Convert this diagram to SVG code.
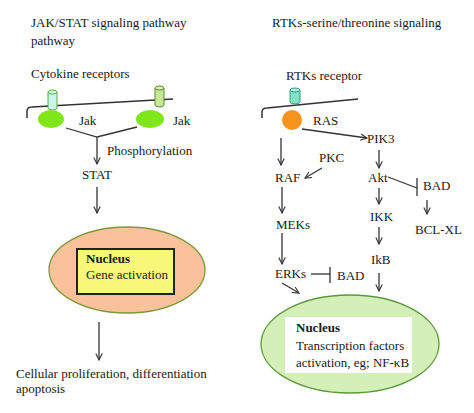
<svg xmlns="http://www.w3.org/2000/svg" width="474" height="413" viewBox="0 0 474 413">
<defs>
<style>
text{font-family:"Liberation Serif","Times New Roman",serif;font-size:13px;fill:#1a1a1a}
.b{font-weight:bold}
.ln{stroke:#333;stroke-width:1.3;fill:none}
.arr{stroke:#333;stroke-width:1.3;fill:none;marker-end:url(#ah)}
.mem{stroke:#333;stroke-width:1.5;fill:none}
</style>
<marker id="ah" viewBox="0 0 10 10" refX="9" refY="5" markerWidth="8" markerHeight="8" markerUnits="userSpaceOnUse" orient="auto">
<path d="M1,1 L9,5 L1,9" fill="none" stroke="#333" stroke-width="1.4"/>
</marker>
</defs>
<rect width="474" height="413" fill="#fff"/>

<g id="titles">
<text x="31" y="27">JAK/STAT signaling pathway</text>
<text x="31" y="45">pathway</text>
<text x="272" y="27">RTKs-serine/threonine signaling</text>
</g>

<g id="cytokine-receptors">
<text x="31" y="78">Cytokine receptors</text>
<path class="mem" d="M27,118 V111 Q27,107 32,107 L173,99"/>
<g id="receptor1">
<path d="M48,92 V108 A4.5,2 0 0 0 57,108 V92" fill="#c9f7ee" stroke="#5cab3c" stroke-width="1"/>
<ellipse cx="52.5" cy="92" rx="4.5" ry="2" fill="#c9f7ee" stroke="#5cab3c" stroke-width="1"/>
</g>
<g id="receptor2">
<path d="M155,88 V105 A4.5,2 0 0 0 164,105 V88" fill="#c5e89a" stroke="#5a8a2a" stroke-width="1"/>
<ellipse cx="159.5" cy="88" rx="4.5" ry="2" fill="#d8f0b0" stroke="#5a8a2a" stroke-width="1"/>
</g>
</g>

<g id="jak1">
<ellipse cx="51" cy="119" rx="13" ry="9" fill="#7ee619"/>
<text x="79" y="125">Jak</text>
</g>
<g id="jak2">
<ellipse cx="150" cy="119" rx="14" ry="9" fill="#7ee619"/>
<text x="173" y="125">Jak</text>
</g>
<g id="phos">
<text x="107" y="155">Phosphorylation</text>
</g>
<g id="stat">
<text x="97" y="179" text-anchor="middle">STAT</text>
</g>

<g id="nucleus-left">
<ellipse cx="127" cy="270" rx="78" ry="43" fill="#f9c29a" stroke="#7a9a3a" stroke-width="1.3"/>
<rect x="77" y="249" width="97" height="45" fill="#f7f77a" stroke="#222" stroke-width="2"/>
<text x="86" y="263" class="b">Nucleus</text>
<text x="86" y="279">Gene activation</text>
</g>

<g id="outcome">
<text x="16" y="378">Cellular proliferation, differentiation</text>
<text x="16" y="393">apoptosis</text>
</g>

<g id="rtk-receptor">
<text x="286" y="80">RTKs receptor</text>
<path class="mem" d="M262,118 V112 Q262,108 267,108 L358,99"/>
<path d="M290,90 V102 A5,2 0 0 0 300,102 V90" fill="#7fe3c8" stroke="#3a9a7a" stroke-width="1"/>
<ellipse cx="295" cy="90" rx="5" ry="2" fill="#a8f0dc" stroke="#3a9a7a" stroke-width="1"/>
</g>

<g id="ras">
<circle cx="292" cy="120" r="10" fill="#f7941d"/>
<text x="313" y="125">RAS</text>
</g>
<g id="pik3"><text x="367" y="143">PIK3</text></g>
<g id="pkc"><text x="319" y="162">PKC</text></g>
<g id="raf"><text x="275" y="182">RAF</text></g>
<g id="akt"><text x="368" y="182">Akt</text></g>
<g id="bad1"><text x="423" y="190">BAD</text></g>
<g id="bclxl"><text x="415" y="234">BCL-XL</text></g>
<g id="ikk"><text x="370" y="221">IKK</text></g>
<g id="ikb"><text x="371" y="264">IkB</text></g>
<g id="meks"><text x="276" y="229">MEKs</text></g>
<g id="erks"><text x="275" y="278">ERKs</text></g>
<g id="bad2"><text x="337" y="280">BAD</text></g>

<g id="nucleus-right">
<ellipse cx="350" cy="344" rx="89" ry="49" fill="#d5efb9" stroke="#5a9a3a" stroke-width="1.3"/>
<rect x="285" y="317" width="127" height="56" fill="#fff"/>
<text x="296" y="332" class="b">Nucleus</text>
<text x="296" y="350">Transcription factors</text>
<text x="296" y="367">activation, eg; NF-κB</text>
</g>

<g id="connectors">
<polyline class="ln" points="66,128 97,137 137,127"/>
<line class="arr" x1="97" y1="137" x2="97" y2="164"/>
<line class="arr" x1="97" y1="187" x2="97" y2="213"/>
<line class="arr" x1="99" y1="322" x2="99" y2="360"/>

<line class="arr" x1="302" y1="129" x2="367" y2="138"/>
<line class="arr" x1="281" y1="138" x2="281" y2="165"/>
<line class="arr" x1="322" y1="168" x2="305" y2="178"/>
<line class="arr" x1="379" y1="150" x2="379" y2="168"/>
<line class="ln" x1="388" y1="177" x2="417" y2="188"/>
<line class="ln" x1="417" y1="178" x2="417" y2="196"/>
<line class="arr" x1="427" y1="200" x2="427" y2="214"/>
<line class="arr" x1="379" y1="188" x2="379" y2="204"/>
<line class="arr" x1="379" y1="227" x2="379" y2="244"/>
<line class="arr" x1="379" y1="273" x2="379" y2="291"/>
<line class="arr" x1="282" y1="187" x2="282" y2="213"/>
<line class="arr" x1="282" y1="233" x2="282" y2="264"/>
<line class="ln" x1="311" y1="274" x2="330" y2="274"/>
<line class="ln" x1="330" y1="267" x2="330" y2="283"/>
<line class="arr" x1="282" y1="283" x2="299" y2="293"/>
</g>
</svg>
